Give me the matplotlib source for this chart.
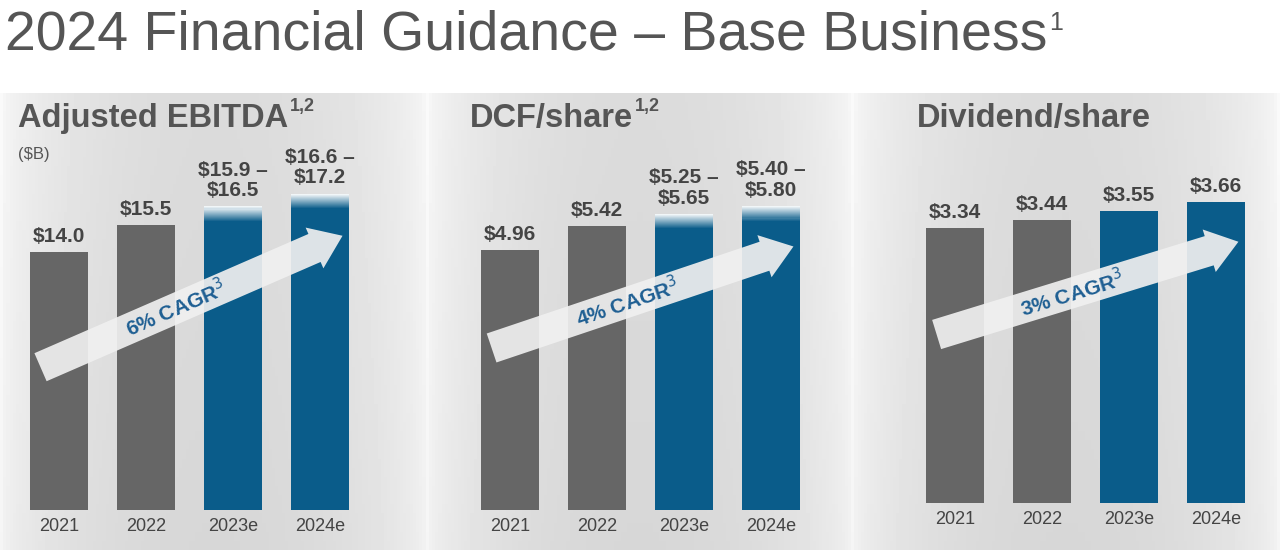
import matplotlib
matplotlib.use("Agg")
import matplotlib.pyplot as plt
import numpy as np
from matplotlib.patches import FancyArrowPatch

years = ["2021", "2022", "2023e", "2024e"]
ebitda = [14.0, 15.5, 16.5, 17.2]
ebitda_labels = ["$14.0", "$15.5", "$15.9 –\n$16.5", "$16.6 –\n$17.2"]
dcf = [4.96, 5.42, 5.65, 5.80]
dcf_labels = ["$4.96", "$5.42", "$5.25 –\n$5.65", "$5.40 –\n$5.80"]
div = [3.34, 3.44, 3.55, 3.66]
div_labels = ["$3.34", "$3.44", "$3.55", "$3.66"]
titles = ["Adjusted EBITDA", "DCF/share", "Dividend/share"]
title_sups = ["1,2", "1,2", ""]
cagr = ["6% CAGR$^3$", "4% CAGR$^3$", "3% CAGR$^3$"]
fade = [False, False, True, True]

plt.rcParams['font.family'] = ['Liberation Sans', 'DejaVu Sans']
W, H = 1280, 550
fig = plt.figure(figsize=(12.8, 5.5), dpi=100)
renderer = fig.canvas.get_renderer()

bg = fig.add_axes([0, 0, 1, (550 - 93) / H], zorder=-10)
x = np.linspace(-1, 1, 400)
row = 0.86 + 0.12 * (1 - np.abs(np.cos(x * np.pi * 1.5)) ** 0.5)
grad = np.tile(row, (50, 1))
vert = np.linspace(1, 0.98, 50)[:, None]
bg.imshow(grad * vert, cmap="gray", vmin=0, vmax=1, aspect="auto", extent=[0, 1, 0, 1])
bg.axis("off")

def with_sup(xp, yp, s, sup, size, supsize, weight="normal", dy=10):
    t = fig.text(xp / W, 1 - yp / H, s, fontsize=size, color="#555555",
                 va="center", ha="left", fontweight=weight)
    if sup:
        bb = t.get_window_extent(renderer)
        fig.text((bb.x1 + 2) / W, 1 - (yp - dy) / H, sup, fontsize=supsize,
                 color="#555555", va="center", ha="left", fontweight=weight)

with_sup(5, 35, "2024 Financial Guidance – Base Business", "1", 40, 18, dy=12)

gray = "#666666"
blue = "#0a5c8a"
panels = [(ebitda, ebitda_labels, 11, 359, 510, 18.4, 0.55),
          (dcf, dcf_labels, 462, 810, 510, 52.4, 0.62),
          (div, div_labels, 907, 1255, 503, 82.3, 0.61)]
title_x = [18, 470, 917]
for i, (vals, labs, x0, x1, base, scale, fr) in enumerate(panels):
    ax = fig.add_axes([x0 / W, (H - base) / H, (x1 - x0) / W, (base - 95) / H])
    ymax = (base - 95) / scale
    ax.set_ylim(0, ymax)
    ax.set_xlim(-0.55, 3.45)
    cols = [gray, gray, blue, blue]
    ax.bar(range(4), vals, width=0.67, color=cols)
    for j, v in enumerate(vals):
        if fade[j] and "–" in labs[j]:
            n = 14
            for k in range(n):
                h = 0.035 * ymax / n
                ax.bar(j, h, bottom=v - (k + 1) * h, width=0.67, color="white",
                       alpha=(1 - k / n) * 0.95, lw=0)
        ax.text(j, v + 0.015 * ymax, labs[j], ha="center", va="bottom", fontsize=15,
                fontweight="bold", color="#444444", linespacing=1.1)
    ax.set_xticks(range(4))
    ax.set_xticklabels(years, fontsize=13, color="#444444")
    ax.tick_params(length=0, pad=6)
    ax.set_yticks([])
    for s in ax.spines.values():
        s.set_visible(False)
    ax.patch.set_alpha(0)
    A = (-0.24, vals[0] * fr)
    B = (3.29, vals[3] * 0.87)
    arr = FancyArrowPatch(A, B, arrowstyle="simple,head_length=22,head_width=32,tail_width=22",
                          mutation_scale=1, color="#f0f0f0", alpha=0.92, lw=0, zorder=3,
                          clip_on=False)
    ax.add_patch(arr)
    pa = ax.transData.transform(A)
    pb = ax.transData.transform(B)
    ang = np.degrees(np.arctan2(pb[1] - pa[1], pb[0] - pa[0]))
    m = ax.transData.inverted().transform(pa + 0.45 * (pb - pa))
    ax.text(m[0], m[1], cagr[i], rotation=ang, ha="center", va="center", fontsize=15,
            fontweight="bold", color="#1f5f93", zorder=4, rotation_mode="anchor")
    with_sup(title_x[i], 118, titles[i], title_sups[i], 23.5, 13, weight="bold", dy=12)
fig.text(18 / W, 1 - 155 / H, "($B)", fontsize=12, color="#555555", va="center")
fig.savefig("out.png", dpi=100)
